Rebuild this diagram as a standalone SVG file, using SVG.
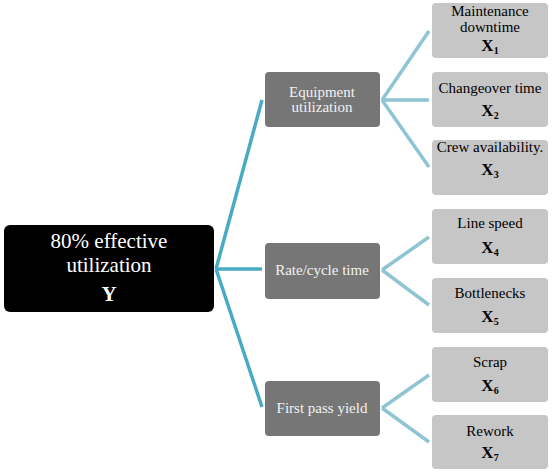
<svg xmlns="http://www.w3.org/2000/svg" width="552" height="475" viewBox="0 0 552 475">
<style>
text{font-family:"Liberation Serif","Times New Roman",serif;text-anchor:middle}
.root{fill:#000}
.mid{fill:#767676}
.leaf{fill:#c6c6c6}
.rt{fill:#fff;font-size:21px}
.mt{fill:#f2f2f2;font-size:15px}
.lt{fill:#000;font-size:15px}
.x{font-weight:bold;font-size:17px;fill:#000}
.x tspan{font-size:10px}
.c1{stroke:#4aaac4;stroke-width:3.5;fill:none}
.c2{stroke:#8fc4d3;stroke-width:3.5;fill:none}
</style>
<rect width="552" height="475" fill="#fff"/>
<g id="connectors">
<path class="c1" d="M216 269 L262 100 M216 269 L262 269 M216 269 L262 407"/>
<path class="c2" d="M382 100 L429 31 M382 100 L429 100 M382 100 L429 167"/>
<path class="c2" d="M382 270 L429 237 M382 270 L429 305"/>
<path class="c2" d="M382 408 L429 375 M382 408 L429 442"/>
</g>
<g id="root">
<rect class="root" x="4" y="225" width="210" height="87" rx="6"/>
<text class="rt" x="109" y="248">80% effective</text>
<text class="rt" x="109" y="272">utilization</text>
<text class="rt" x="109" y="301" font-weight="bold">Y</text>
</g>
<g id="equipment">
<rect class="mid" x="265" y="72" width="115" height="55" rx="4"/>
<text class="mt" x="322" y="97">Equipment</text>
<text class="mt" x="322" y="112">utilization</text>
</g>
<g id="rate">
<rect class="mid" x="265" y="243" width="115" height="56" rx="4"/>
<text class="mt" x="322" y="275">Rate/cycle time</text>
</g>
<g id="firstpass">
<rect class="mid" x="265" y="381" width="115" height="55" rx="4"/>
<text class="mt" x="322" y="413">First pass yield</text>
</g>
<g id="x1">
<rect class="leaf" x="432" y="3" width="116" height="55" rx="4"/>
<text class="lt" x="490" y="16">Maintenance</text>
<text class="lt" x="490" y="32">downtime</text>
<text class="x" x="490" y="51">X<tspan dy="3">1</tspan></text>
</g>
<g id="x2">
<rect class="leaf" x="432" y="72" width="116" height="55" rx="4"/>
<text class="lt" x="490" y="93">Changeover time</text>
<text class="x" x="490" y="116">X<tspan dy="3">2</tspan></text>
</g>
<g id="x3">
<rect class="leaf" x="432" y="140" width="116" height="55" rx="4"/>
<text class="lt" x="490" y="152">Crew availability.</text>
<text class="x" x="490" y="175">X<tspan dy="3">3</tspan></text>
</g>
<g id="x4">
<rect class="leaf" x="432" y="209" width="116" height="55" rx="4"/>
<text class="lt" x="490" y="228">Line speed</text>
<text class="x" x="490" y="253">X<tspan dy="3">4</tspan></text>
</g>
<g id="x5">
<rect class="leaf" x="432" y="278" width="116" height="55" rx="4"/>
<text class="lt" x="490" y="298">Bottlenecks</text>
<text class="x" x="490" y="322">X<tspan dy="3">5</tspan></text>
</g>
<g id="x6">
<rect class="leaf" x="432" y="347" width="116" height="55" rx="4"/>
<text class="lt" x="490" y="367">Scrap</text>
<text class="x" x="490" y="391">X<tspan dy="3">6</tspan></text>
</g>
<g id="x7">
<rect class="leaf" x="432" y="415" width="116" height="54" rx="4"/>
<text class="lt" x="490" y="436">Rework</text>
<text class="x" x="490" y="458">X<tspan dy="3">7</tspan></text>
</g>
</svg>
